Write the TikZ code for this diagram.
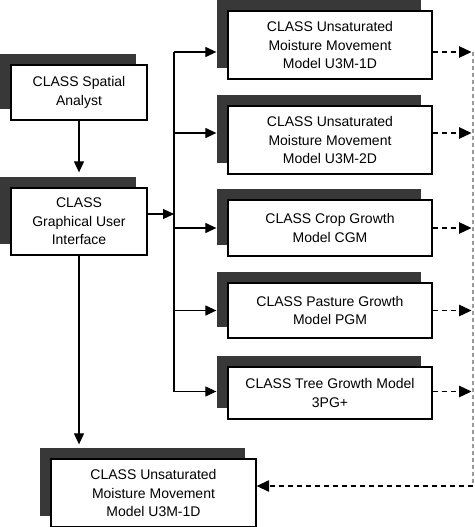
\documentclass[tikz,border=0pt]{standalone}
\usepackage{fontspec}
\setmainfont{Liberation Sans}
\usetikzlibrary{arrows.meta,shadows}

\tikzset{
    modelbox/.style={draw, fill=white, line width=1.3pt, inner sep=0pt,
        align=center, font=\fontsize{14}{18.5}\selectfont,
        drop shadow={shadow xshift=-11pt, shadow yshift=11pt, fill=black!78, opacity=1}},
    arr/.style={line width=1.2pt, -{Triangle[length=11pt,width=10pt]}},
    dasharr/.style={line width=1.2pt, dash pattern=on 5pt off 4pt,
        -{Triangle[length=12.5pt,width=11.5pt]}},
    railline/.style={line width=1.5pt, black!40, dash pattern=on 4pt off 3pt}
}

\begin{document}
\begin{tikzpicture}[x=1pt,y=1pt]
            \useasboundingbox (0,0) rectangle (474,-527);

            % left column
            \node[modelbox, minimum width=136pt, minimum height=55pt] (spatial) at (79,-92.5)
                {CLASS Spatial\\Analyst};
            \node[modelbox, minimum width=136pt, minimum height=67pt] (gui) at (79,-221.5)
                {CLASS\\Graphical User\\Interface};
            \node[modelbox, minimum width=205pt, minimum height=68pt] (back) at (153.5,-493)
                {CLASS Unsaturated\\Moisture Movement\\Model U3M-1D};

            % right column
            \node[modelbox, minimum width=204pt, minimum height=68pt] (u1) at (330,-45)
                {CLASS Unsaturated\\Moisture Movement\\Model U3M-1D};
            \node[modelbox, minimum width=204pt, minimum height=68pt] (u2) at (330,-140)
                {CLASS Unsaturated\\Moisture Movement\\Model U3M-2D};
            \node[modelbox, minimum width=204pt, minimum height=56pt] (cgm) at (330,-228)
                {CLASS Crop Growth\\Model CGM};
            \node[modelbox, minimum width=204pt, minimum height=55pt] (pgm) at (330,-310.5)
                {CLASS Pasture Growth\\Model PGM};
            \node[modelbox, minimum width=204pt, minimum height=52pt] (tree) at (330,-393)
                {CLASS Tree Growth Model\\3PG+};

            \coordinate (bus) at (174,0);
            \coordinate (rail) at (473,0);
            \coordinate (guiout) at ([yshift=7.5pt]gui.east);
            \coordinate (guitop) at ([yshift=15pt]gui.north);
            \coordinate (backtop) at ([yshift=14pt]back.north);
            \coordinate (backin) at ([yshift=7pt]back.east);

            % inputs and outputs of the models
            \foreach \b/\dy in {u1/-7, u2/7, cgm/0, pgm/0, tree/1.5} {
                \coordinate (\b in) at ([shift={(-11pt,\dy pt)}]\b.west);
                \draw[arr] (bus |- \b in) -- (\b in);
                \draw[dasharr, shorten >=1.5pt] (\b in -| \b.east) -- (rail |- \b in);
            }

            \draw[line width=1.2pt] (bus |- u1in) -- (bus |- treein);
            \draw[railline] (rail |- u1in) -- (rail |- backin);

            \draw[arr] (spatial.south) -- (guitop);
            \draw[arr] (guiout) -- (bus |- guiout);
            \draw[arr] (gui.south) -- (gui.south |- backtop);
            \draw[dasharr] (rail |- backin) -- (backin);
        \end{tikzpicture}
\end{document}
